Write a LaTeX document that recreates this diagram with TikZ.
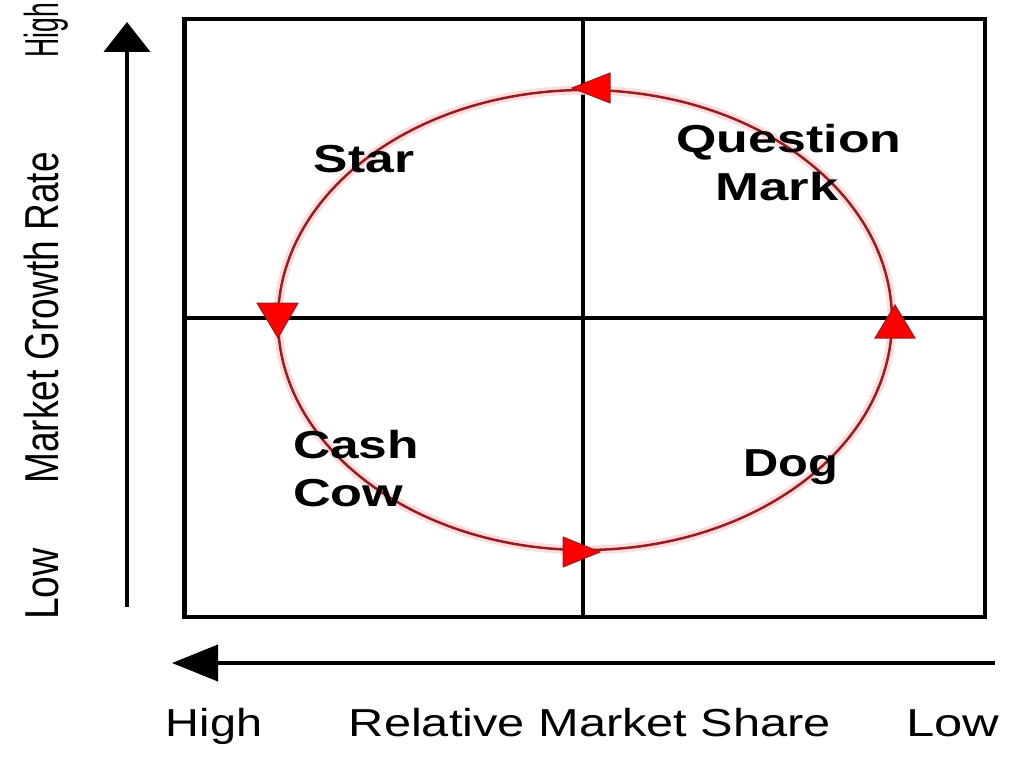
\documentclass[tikz,border=0pt]{standalone}
\usepackage{fontspec}
\setmainfont{Liberation Sans}
\usetikzlibrary{arrows.meta}
\definecolor{ringred}{RGB}{150,30,35}
\definecolor{glowred}{RGB}{255,220,220}
\definecolor{headred}{RGB}{255,0,0}
\begin{document}
\begin{tikzpicture}[x=1pt,y=-1pt,
  frame/.style={line width=4.5pt, black},
  axis/.style={line width=4pt, black},
  ring/.style={draw=ringred, line width=2.5pt},
  ringglow/.style={draw=glowred, line width=9pt},
  head/.style={fill=headred, draw=ringred, line width=1pt, line join=miter},
  quad/.style={font=\fontsize{39}{39}\selectfont\bfseries, inner sep=0pt},
  axlab/.style={font=\fontsize{39}{39}\selectfont, inner sep=0pt},
]
\useasboundingbox (0,0) rectangle (1024,768);
\fill[white] (0,0) rectangle (1024,768);

% matrix frame
\draw[frame] (184.5,19) rectangle (985,617);
\coordinate (vtop) at (583,19);
\coordinate (vbot) at (583,617);
\coordinate (hl) at (184.5,318);
\coordinate (hr) at (985,318);
\draw[frame] (vtop) -- (vbot);
\draw[frame] (hl) -- (hr);

% axes
\coordinate (ya) at (127,607);
\coordinate (yb) at (127,22);
\draw[axis, -{Triangle[length=30pt,width=46pt]}] (ya) -- (yb);
\coordinate (xa) at (995,663);
\coordinate (xb) at (172,663);
\draw[axis, -{Triangle[length=46pt,width=36pt]}] (xa) -- (xb);

% cycle ring
\draw[ringglow] (585,320) ellipse [x radius=307pt, y radius=230pt];
\draw[ring] (585,320) ellipse [x radius=307pt, y radius=230pt];

% arrowheads on the ring
\filldraw[head] (572,88) -- (610,73) -- (610,103) -- cycle;
\filldraw[head] (278,338) -- (257,303) -- (298,303) -- cycle;
\filldraw[head] (895,305) -- (875,338) -- (915,338) -- cycle;
\filldraw[head] (600,552) -- (563,537) -- (563,567) -- cycle;

% quadrant labels
\node[quad, anchor=base] (star) at (364,172) {\scalebox{1.32}[1]{Star}};
\node[quad, anchor=base] (question) at (789,152) {\scalebox{1.33}[1]{Question}};
\node[quad, anchor=base] (mark) at (777,200) {\scalebox{1.35}[1]{Mark}};
\node[quad, anchor=base west] (cash) at (293,458) {\scalebox{1.32}[1]{Cash}};
\node[quad, anchor=base west] (cow) at (293,506) {\scalebox{1.34}[1]{Cow}};
\node[quad, anchor=base] (dog) at (791,476) {\scalebox{1.25}[1]{Dog}};

% axis labels
\node[axlab, anchor=base] (xhigh) at (214,736) {\scalebox{1.2}[1]{High}};
\node[axlab, anchor=base] (xtitle) at (590,736) {\scalebox{1.25}[1]{Relative Market Share}};
\node[axlab, anchor=base] (xlow) at (953,736) {\scalebox{1.3}[1]{Low}};

\node[axlab, rotate=90, anchor=base] (yhigh) at (58,30) {\scalebox{0.68}[1.22]{High}};
\node[axlab, rotate=90, anchor=base] (ytitle) at (58,318) {\scalebox{0.95}[1.22]{Market Growth Rate}};
\node[axlab, rotate=90, anchor=base] (ylow) at (58,584) {\scalebox{1.0}[1.22]{Low}};
\end{tikzpicture}
\end{document}
